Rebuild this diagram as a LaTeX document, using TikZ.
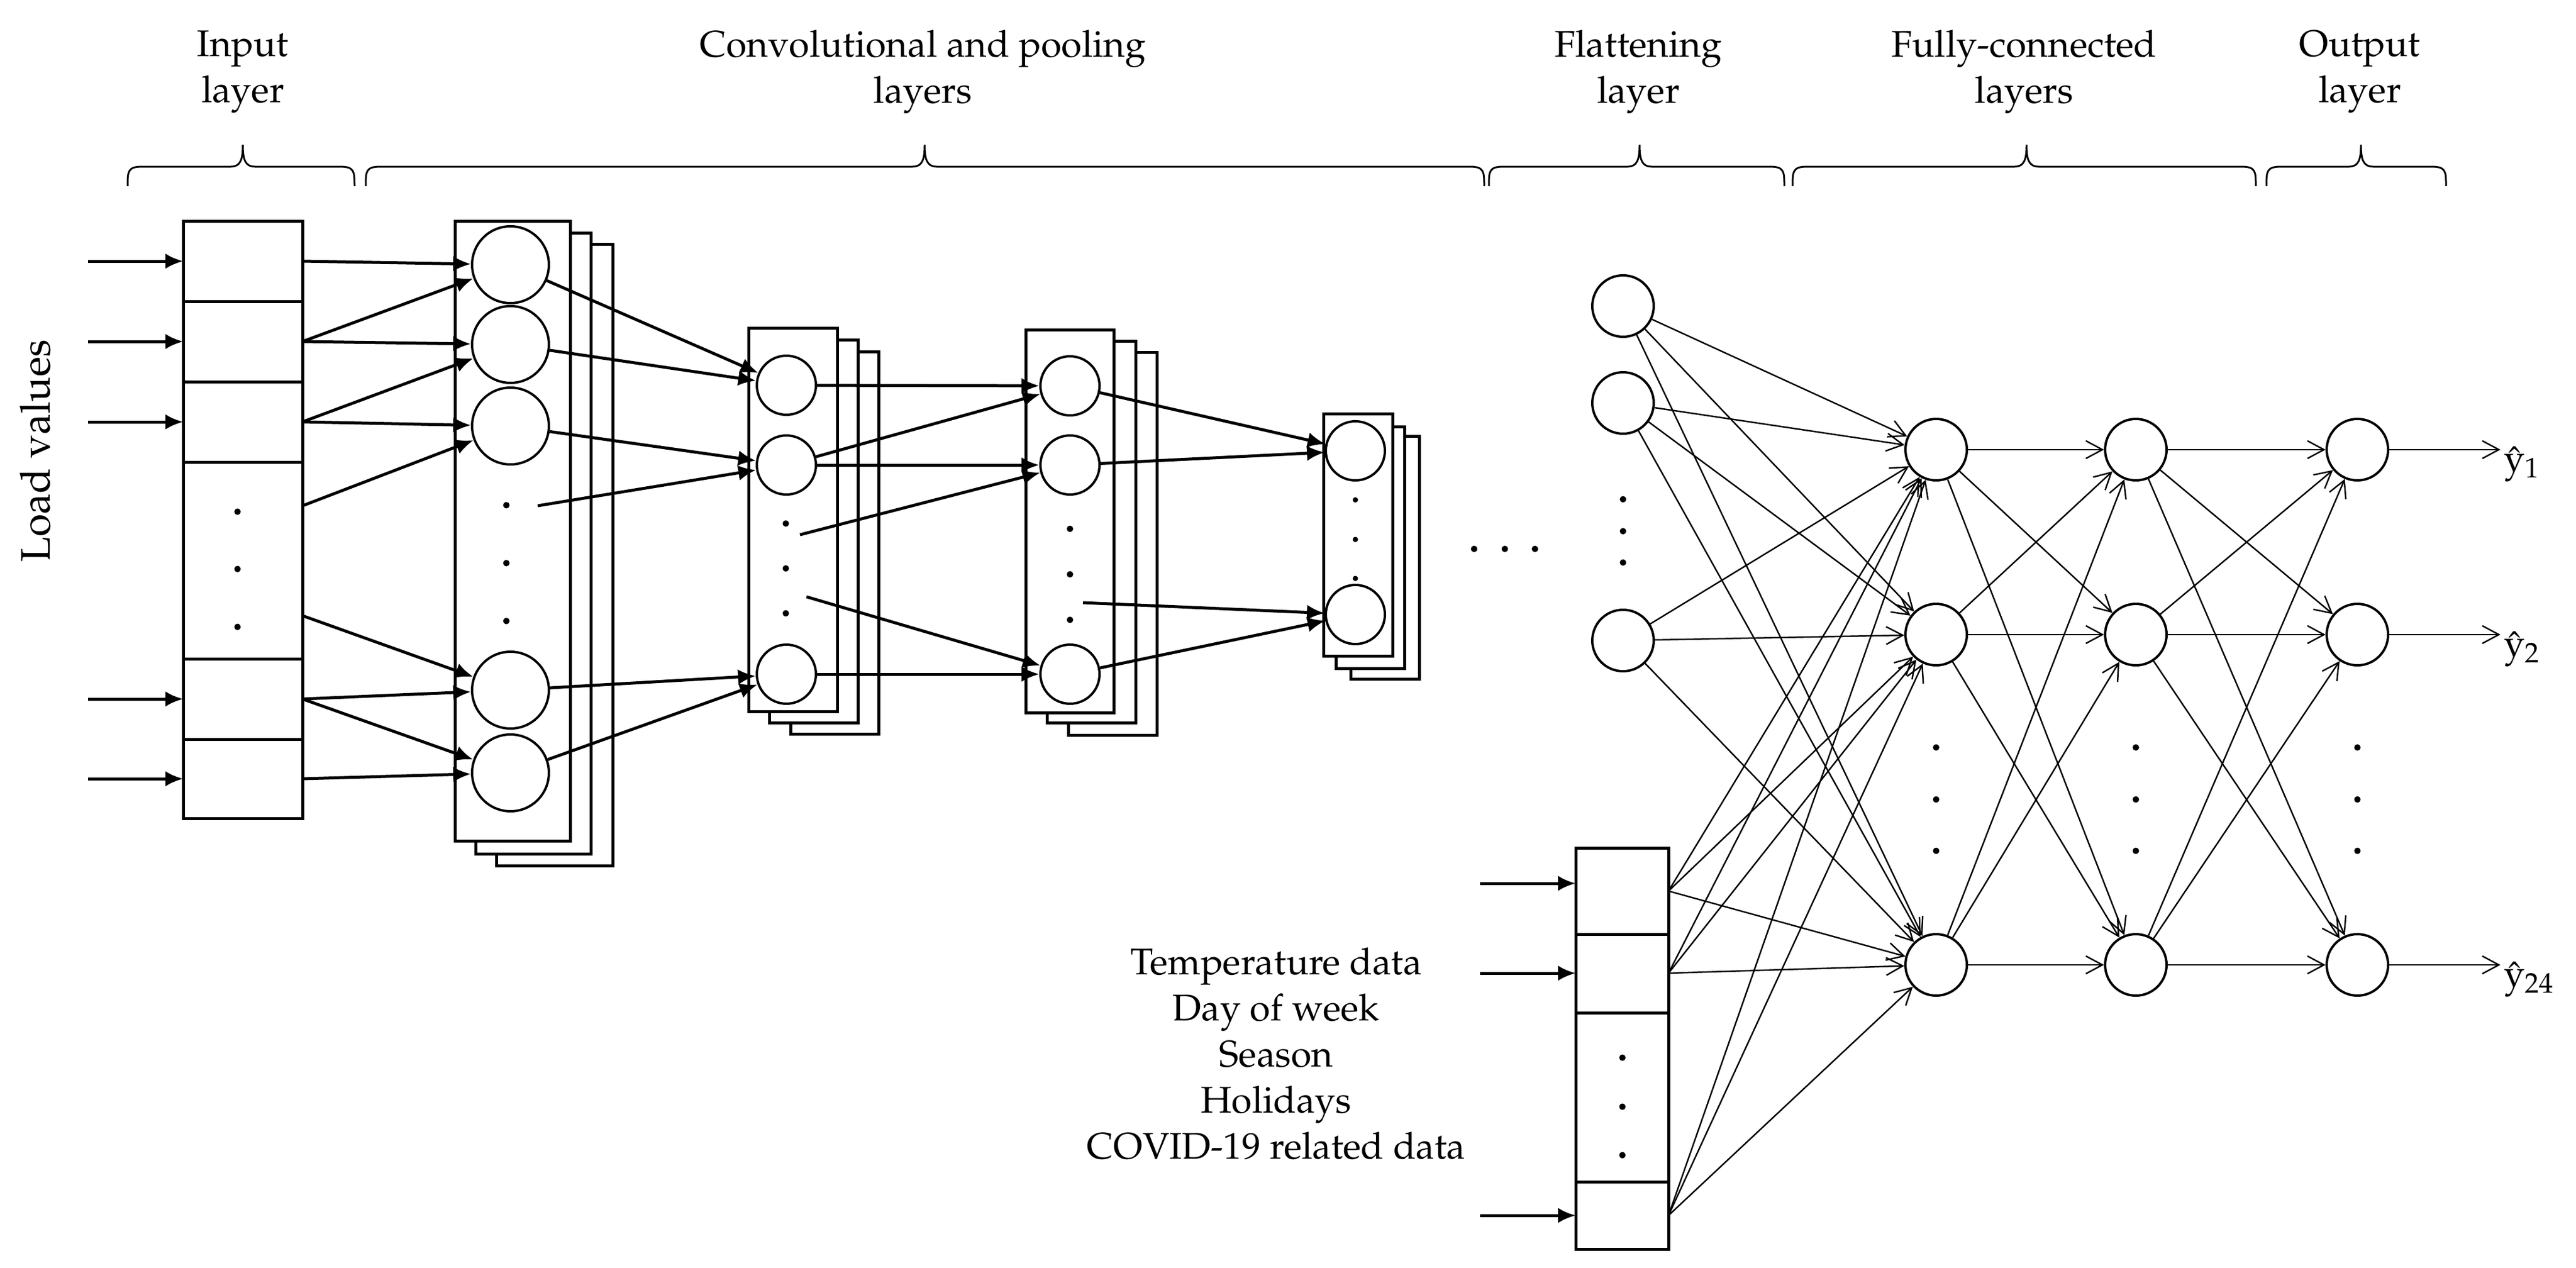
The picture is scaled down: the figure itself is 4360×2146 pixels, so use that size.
\documentclass[tikz,border=0pt]{standalone}
\usepackage[T1]{fontenc}
\usepackage{mathpazo}
\usetikzlibrary{arrows.meta}
\newcommand\mybrace[3]{% left x, mid x, right x
  \draw[line width=3pt] (#1,315) .. controls (#1,290) and (#1,282) .. (#1+25,282)
    -- (#2-20,282) .. controls (#2-4,282) and (#2,270) .. (#2,245)
    .. controls (#2,270) and (#2+4,282) .. (#2+20,282)
    -- (#3-25,282) .. controls (#3,282) and (#3,290) .. (#3,315);}
\begin{document}
\begin{tikzpicture}[x=1pt,y=-1pt,
  font=\fontsize{63}{78}\selectfont,
  lab/.style={align=center,inner sep=0},
  box/.style={line width=5pt,fill=white},
  cline/.style={line width=5pt},
  carrow/.style={line width=5pt,-{Latex[length=30pt,width=26pt]}},
  farrow/.style={line width=2.5pt,-{Straight Barb[length=28pt,width=30pt,line width=2.5pt]}},
  neur/.style={circle,draw,line width=4pt,inner sep=0,minimum size=#1,fill=white},
  neur/.default=104pt,
  dot/.style={circle,fill,inner sep=0,minimum size=11pt}]
\useasboundingbox (0,0) rectangle (4360,2146);

% top labels and braces
\node[lab] (t1) at (411,122) {Input\\layer};
\node[lab] (t2) at (1562,122) {Convolutional and pooling\\layers};
\node[lab] (t3) at (2773,122) {Flattening\\layer};
\node[lab] (t4) at (3426,122) {Fully-connected\\layers};
\node[lab] (t5) at (3994,122) {Output\\layer};
\mybrace{216}{411}{600}
\mybrace{619}{1565}{2512}
\mybrace{2520}{2775}{3020}
\mybrace{3034}{3430}{3818}
\mybrace{3836}{3996}{4140}

\node[rotate=90,font=\fontsize{70}{80}\selectfont] (lv) at (60,763) {Load values};

% input box
\draw[box] (310,374) rectangle (512,1385);
\foreach \y in {510,646,782,1115,1251} \draw[cline] (310,\y) -- (512,\y);
\foreach \y [count=\i] in {866,963,1061} \node[dot] (ind\i) at (402,\y) {};
\foreach \y [count=\i] in {442,578,714,1183,1318}{
  \coordinate (iw\i) at (310,\y);
  \coordinate (is\i) at (149,\y);
  \coordinate (ie\i) at (512,\y);
  \draw[carrow] (is\i) -- (iw\i);
}
\coordinate (ieA) at (512,856);
\coordinate (ieB) at (512,1042);

% stacks
\draw[box] (840,413) rectangle (1037,1465);
\draw[box] (805,394) rectangle (1000,1445);
\draw[box] (770,374) rectangle (965,1423);
\draw[box] (1338,595) rectangle (1487,1242);
\draw[box] (1302,575) rectangle (1452,1223);
\draw[box] (1267,555) rectangle (1417,1204);
\draw[box] (1808,596) rectangle (1958,1244);
\draw[box] (1772,577) rectangle (1922,1223);
\draw[box] (1736,558) rectangle (1885,1206);
\draw[box] (2286,738) rectangle (2402,1149);
\draw[box] (2261,722) rectangle (2377,1131);
\draw[box] (2240,700) rectangle (2357,1110);

% conv neurons
\foreach \y [count=\i] in {448,583,721,1168,1308} \node[neur=130pt] (k\i) at (864,\y) {};
\foreach \y [count=\i] in {855,953,1051} \node[dot] (kd\i) at (857,\y) {};
\foreach \y [count=\i] in {652,787,1141} \node[neur=100pt] (p\i) at (1331,\y) {};
\foreach \y [count=\i] in {886,962,1038} \node[dot] (pd\i) at (1330,\y) {};
\foreach \y [count=\i] in {653,787,1141} \node[neur=100pt] (q\i) at (1811,\y) {};
\foreach \y [count=\i] in {895,972,1049} \node[dot] (qd\i) at (1811,\y) {};
\foreach \y [count=\i] in {763,1040} \node[neur=100pt] (r\i) at (2294,\y) {};
\foreach \y [count=\i] in {846,913,979} \node[dot,minimum size=9pt] (rd\i) at (2294,\y) {};

\coordinate (kA) at (910,856);
\coordinate (pA) at (1354,905);
\coordinate (pB) at (1365,1010);
\coordinate (qA) at (1833,1020);

% conv connections
\draw[carrow] (ie1) -- (k1);
\draw[carrow] (ie2) -- (k1);
\draw[carrow] (ie2) -- (k2);
\draw[carrow] (ie3) -- (k2);
\draw[carrow] (ie3) -- (k3);
\draw[carrow] (ieA) -- (k3);
\draw[carrow] (ieB) -- (k4);
\draw[carrow] (ie4) -- (k4);
\draw[carrow] (ie4) -- (k5);
\draw[carrow] (ie5) -- (k5);

\draw[carrow] (k1) -- (p1);
\draw[carrow] (k2) -- (p1);
\draw[carrow] (k3) -- (p2);
\draw[carrow] (kA) -- (p2);
\draw[carrow] (k4) -- (p3);
\draw[carrow] (k5) -- (p3);

\draw[carrow] (p1) -- (q1);
\draw[carrow] (p2) -- (q1);
\draw[carrow] (p2) -- (q2);
\draw[carrow] (pA) -- (q2);
\draw[carrow] (pB) -- (q3);
\draw[carrow] (p3) -- (q3);

\draw[carrow] (q1) -- (r1);
\draw[carrow] (q2) -- (r1);
\draw[carrow] (qA) -- (r2);
\draw[carrow] (q3) -- (r2);

% ellipsis between conv and flatten
\foreach \x [count=\i] in {2495,2547,2598} \node[dot] (md\i) at (\x,929) {};

% flatten
\foreach \y [count=\i] in {518,682,1084} \node[neur] (f\i) at (2747,\y) {};
\foreach \y [count=\i] in {845,899,952} \node[dot] (fd\i) at (2747,\y) {};

% extra inputs box
\draw[box] (2667,1435) rectangle (2824,2114);
\foreach \y in {1581,1714,2000} \draw[cline] (2667,\y) -- (2824,\y);
\foreach \y [count=\i] in {1790,1873,1955} \node[dot] (ed\i) at (2746,\y) {};
\foreach \y/\z [count=\i] in {1495/1508,1647/1647,2057/2057}{
  \coordinate (es\i) at (2505,\y);
  \coordinate (ew\i) at (2667,\y);
  \coordinate (ee\i) at (2824,\z);
  \draw[carrow] (es\i) -- (ew\i);
}
\node[lab] (feat) at (2160,1783) {Temperature data\\Day of week\\Season\\Holidays\\COVID-19 related data};

% fully connected
\foreach \y [count=\i] in {761,1074,1633}{
  \node[neur] (h\i) at (3277,\y) {};
  \node[neur] (g\i) at (3615,\y) {};
  \node[neur] (o\i) at (3990,\y) {};
}
\foreach \x/\n in {3277/h,3615/g,3990/o}
  \foreach \y [count=\i] in {1265,1353,1440} \node[dot] (\n d\i) at (\x,\y) {};

\foreach \s in {f1,f2,f3,ee1,ee2,ee3}
  \foreach \t in {h1,h2,h3} \draw[farrow] (\s) -- (\t);
\foreach \s in {h1,h2,h3}
  \foreach \t in {g1,g2,g3} \draw[farrow] (\s) -- (\t);
\foreach \s in {g1,g2,g3}
  \foreach \t in {o1,o2,o3} \draw[farrow] (\s) -- (\t);

% outputs
\foreach \y/\l [count=\i] in {761/1,1074/2,1633/24}{
  \coordinate (oe\i) at (4232,\y);
  \draw[farrow] (o\i) -- (oe\i);
  \node[anchor=base west,inner sep=0] (yl\i) at (4238,\y+36) {\^y\textsubscript{\l}};
}
\end{tikzpicture}
\end{document}
